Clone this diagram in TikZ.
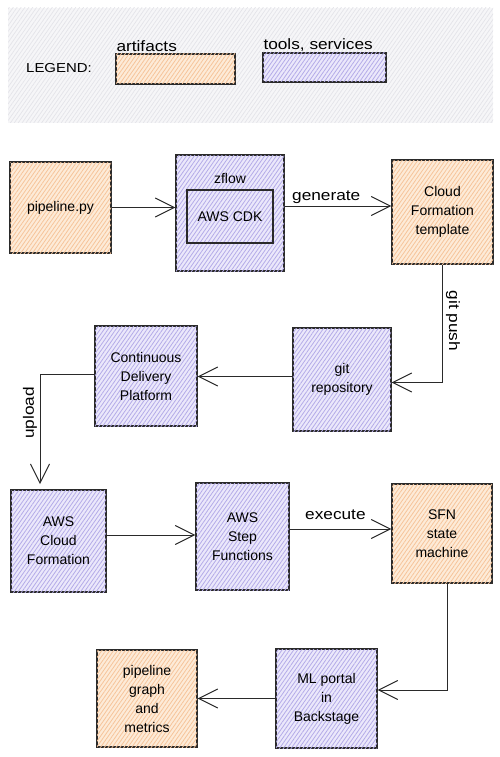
\documentclass[tikz,border=0pt]{standalone}
\usepackage{fontspec}
\setmainfont{Liberation Sans}
\newfontfamily\handfont[FakeStretch=1.15]{Liberation Sans}
\usetikzlibrary{arrows.meta,patterns.meta,positioning}
\definecolor{orfill}{HTML}{FDEBD8}
\definecolor{orhatch}{HTML}{F6C49A}
\definecolor{pufill}{HTML}{EBE8FB}
\definecolor{puhatch}{HTML}{B4ABE8}
\definecolor{lgfill}{HTML}{F6F6F8}
\definecolor{lghatch}{HTML}{E4E4E9}
\definecolor{ink}{HTML}{2A2A2A}
\tikzset{
  boxbase/.style={draw=ink, line width=1.4pt, align=center, inner sep=0pt,
    font=\fontsize{14}{19}\selectfont, text=black},
  artbox/.style={boxbase, fill=orfill,
    postaction={pattern={Lines[angle=55,distance=3.2pt,line width=0.8pt]}, pattern color=orhatch}},
  toolbox/.style={boxbase, fill=pufill,
    postaction={pattern={Lines[angle=55,distance=3.2pt,line width=0.8pt]}, pattern color=puhatch}},
  sz/.style 2 args={minimum width=#1pt, minimum height=#2pt},
  arr/.style={draw=ink, line width=1pt, -{Straight Barb[length=19pt,width=19pt,line width=1pt]}},
  lbl/.style={font=\handfont\fontsize{15}{18}\selectfont, inner sep=1pt},
}
\begin{document}
\begin{tikzpicture}[x=1pt,y=-1pt]
\useasboundingbox (0,0) rectangle (500,757);
% legend
\path[fill=lgfill, postaction={pattern={Lines[angle=55,distance=3.2pt,line width=0.7pt]}, pattern color=lghatch}] (8,8) rectangle (493,123);
\node[lbl, font=\handfont\fontsize{13}{16}\selectfont, anchor=west] (legend) at (25,68) {LEGEND:};
\node[artbox, sz={119}{30}] (legart) at (175.5,69) {};
\node[toolbox, sz={123}{29}] (legtool) at (324.5,67.5) {};
\node[lbl, anchor=south west] (legarttxt) at (legart.north west) {artifacts};
\node[lbl, anchor=south west] (legtooltxt) at (legtool.north west) {tools, services};
% row 1
\node[artbox, sz={101}{91}] (pipe) at (60.5,207.5) {pipeline.py};
\node[toolbox, sz={108}{116}] (zflow) at (230,213) {};
\node[boxbase, sz={86}{53}] (cdk) at (230,216.5) {AWS CDK};
\node[boxbase, draw=none] (zflowtxt) at (230,178) {zflow};
\node[artbox, sz={101}{104}] (cft) at (442.5,212) {Cloud\\Formation\\template};
% row 2
\node[toolbox, sz={98}{103}] (git) at (342,379.5) {git\\repository};
\node[toolbox, sz={102}{100}] (cdp) at (146,376) {Continuous\\Delivery\\Platform};
% row 3
\node[toolbox, sz={95}{102}] (awscf) at (58.5,541) {AWS\\Cloud\\Formation};
\node[toolbox, sz={93}{107}] (sf) at (242.5,536.5) {AWS\\Step\\Functions};
\node[artbox, sz={100}{99}] (sfn) at (442,533.5) {SFN\\state\\machine};
% row 4
\node[artbox, sz={100}{97}] (graph) at (147,698.5) {pipeline\\graph\\and\\metrics};
\node[toolbox, sz={101}{99}] (ml) at (326.5,698.5) {ML portal\\in\\Backstage};
% connectors
\draw[arr] (pipe.east) -- (pipe.east -| zflow.west);
\draw[arr] ([yshift=7pt]zflow.east) -- ([yshift=7pt]zflow.east -| cft.west);
\node[lbl, anchor=west] (gen) at (291,197) {generate};
\draw[arr] (cft.south) |- ([yshift=-3pt]git.east);
\node[lbl, rotate=-90] (gitpush) at (453,321) {git push};
\draw[arr] ([yshift=3pt]git.west) -- ([yshift=3pt]git.west -| cdp.east);
\coordinate (up) at (40,484);
\draw[arr] ([yshift=2pt]cdp.west) -| (up);
\node[lbl, rotate=90] (upload) at (30,413) {upload};
\draw[arr] ([yshift=6pt]awscf.east) -- ([yshift=6pt]awscf.east -| sf.west);
\draw[arr] ([yshift=7.5pt]sf.east) -- ([yshift=7.5pt]sf.east -| sfn.west);
\node[lbl, anchor=west] (exec) at (304,515) {execute};
\draw[arr] ([xshift=5pt]sfn.south) |- ([yshift=8.5pt]ml.east);
\draw[arr] (ml.west) -- (graph.east);
\end{tikzpicture}
\end{document}
